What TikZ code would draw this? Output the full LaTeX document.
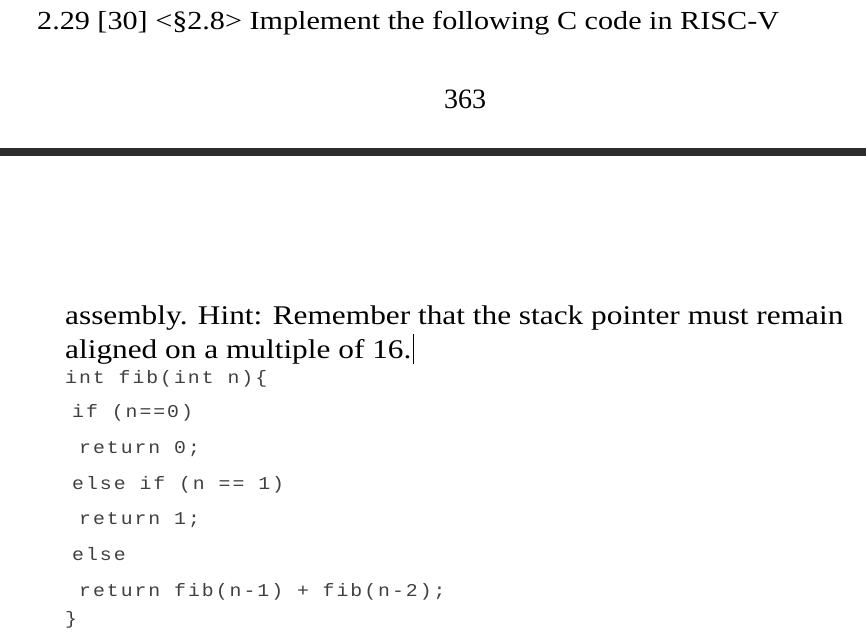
\documentclass[tikz,border=0pt]{standalone}
\usepackage{fontspec}
\setmainfont{Liberation Serif}
\newfontfamily\wideserif[FakeStretch=1.16]{Liberation Serif}
\newfontfamily\codefont[LetterSpace=11,FakeStretch=1.1]{Liberation Mono}
\definecolor{codegray}{HTML}{404040}
\definecolor{bar}{HTML}{2D2D2D}
\begin{document}
\begin{tikzpicture}[x=1pt,y=-1pt,
  serif/.style={anchor=base west,inner sep=0pt,font=\wideserif\fontsize{27}{30}\selectfont},
  code/.style={anchor=base west,inner sep=0pt,text=codegray,font=\codefont\fontsize{18}{20}\selectfont}]
\useasboundingbox (0,0) rectangle (866,632);
\node[serif,font=\wideserif\fontsize{26}{30}\selectfont] (t1) at (37,29) {2.29 [30] <§2.8> Implement the following C code in RISC-V};
\node[serif,anchor=base,font=\fontsize{28}{30}\selectfont] (pg) at (465,108) {363};
\fill[bar] (0,148) rectangle (866,156);
\node[serif] (l1) at (65,324) {assembly. Hint: Remember that the stack pointer must remain};
\node[serif] (l2) at (65,358) {aligned on a multiple of 16.};
\draw[line width=1pt] (l2.base east) ++(2,-24) -- ++(0,30);
\node[code] (c1) at (65,383) {int fib(int n)\{};
\node[code] (c2) at (72,417) {if (n==0)};
\node[code] (c3) at (79,453) {return 0;};
\node[code] (c4) at (72,489) {else if (n == 1)};
\node[code] (c5) at (79,524) {return 1;};
\node[code] (c6) at (72,560) {else};
\node[code] (c7) at (79,596) {return fib(n-1) + fib(n-2);};
\node[code] (c8) at (65,624) {\}};
\end{tikzpicture}
\end{document}
